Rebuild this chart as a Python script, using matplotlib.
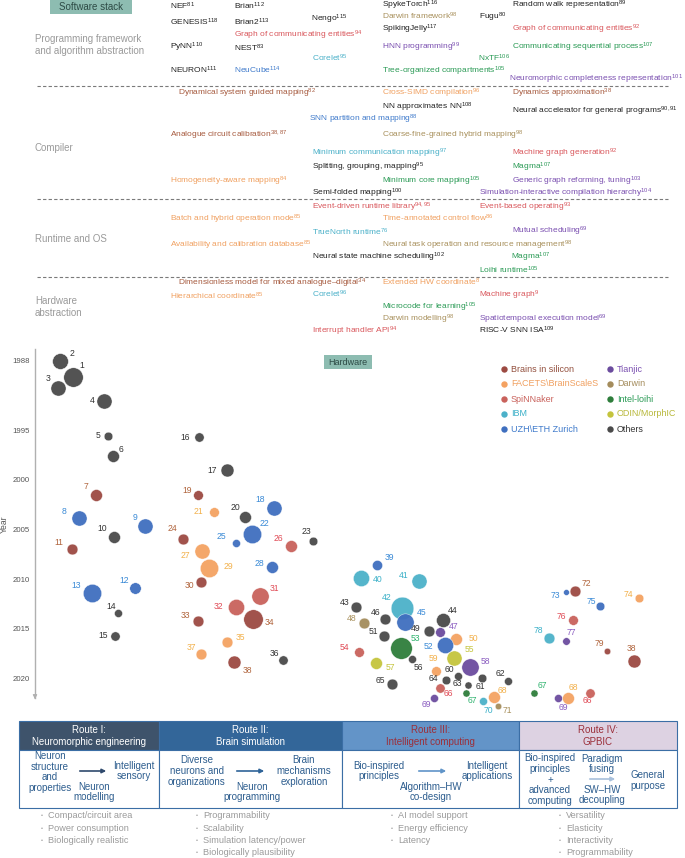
import matplotlib
matplotlib.use('Agg')
import matplotlib.pyplot as plt
from matplotlib.patches import Rectangle

plt.rcParams['font.family'] = ['Liberation Sans', 'DejaVu Sans']
plt.rcParams['mathtext.fontset'] = 'custom'
plt.rcParams['mathtext.rm'] = 'Liberation Sans'
plt.rcParams['mathtext.it'] = 'Liberation Sans:italic'
plt.rcParams['mathtext.bf'] = 'Liberation Sans:bold'
plt.rcParams['mathtext.default'] = 'regular'

# ---------------- data ----------------
groups = ['brains', 'facets', 'spinn', 'ibm', 'uzh', 'tianjic', 'darwin', 'intel', 'odin', 'others']
group_names = ['Brains in silicon', 'FACETS\\BrainScaleS', 'SpiNNaker', 'IBM', 'UZH\\ETH Zurich',
               'Tianjic', 'Darwin', 'Intel-loihi', 'ODIN/MorphIC', 'Others']
bubble_color = {'brains': '#9c4a42', 'facets': '#f4a262', 'spinn': '#c9625c', 'ibm': '#4cb1c9',
                'uzh': '#3f6fbf', 'tianjic': '#6b4c9e', 'darwin': '#a48c5c', 'intel': '#2e7d3b',
                'odin': '#c4c43c', 'others': '#4a4a4a'}
label_color = {'brains': '#b0643c', 'facets': '#f2b04a', 'spinn': '#e04a55', 'ibm': '#3ab0c8',
               'uzh': '#3a8ad6', 'tianjic': '#8a5cc0', 'darwin': '#a8905c', 'intel': '#2eb36e',
               'odin': '#c4c43c', 'others': '#333333'}
legend_text_color = {'brains': '#93503e', 'facets': '#f0a060', 'spinn': '#c9625c', 'ibm': '#3ab0c8',
                     'uzh': '#3f7acb', 'tianjic': '#7a4fb0', 'darwin': '#a48c5c', 'intel': '#2a9a55',
                     'odin': '#b8b83a', 'others': '#333333'}

hw_ids = ['1', '2', '3', '4', '5', '6', '7', '8', '9', '10', '11', '12', '13', '14', '15',
          '16', '17', '18', '19', '20', '21', '22', '23', '24', '25', '26', '27', '28', '29', '30',
          '31', '32', '33', '34', '35', '36', '37', '38',
          '39', '40', '41', '42', '43', '44', '45', '46', '47', '48', '49', '50', '51', '52', '53',
          '54', '55', '56', '57', '58', '59', '60', '61', '62', '63', '64', '65', '66', '67', '68',
          '69', '70', '71',
          '72', '73', '74', '75', '76', '77', '78', '79', '38', '67', '69', '68', '66']
hw_group = ['others', 'others', 'others', 'others', 'others', 'others', 'brains', 'uzh', 'uzh', 'others',
            'brains', 'uzh', 'uzh', 'others', 'others',
            'others', 'others', 'uzh', 'brains', 'others', 'facets', 'uzh', 'others', 'brains', 'uzh',
            'spinn', 'facets', 'uzh', 'facets', 'brains', 'spinn', 'spinn', 'brains', 'brains', 'facets',
            'others', 'facets', 'brains',
            'uzh', 'ibm', 'ibm', 'ibm', 'others', 'others', 'uzh', 'others', 'tianjic', 'darwin', 'others',
            'facets', 'others', 'uzh', 'intel', 'spinn', 'odin', 'others', 'odin', 'tianjic', 'facets',
            'others', 'others', 'others', 'others', 'others', 'others', 'spinn', 'intel', 'facets',
            'tianjic', 'ibm', 'darwin',
            'brains', 'uzh', 'facets', 'uzh', 'spinn', 'tianjic', 'ibm', 'brains', 'brains', 'intel',
            'tianjic', 'facets', 'spinn']
hw_year = [1989.6, 1988.0, 1990.7, 1992.0, 1995.6, 1997.6, 2001.5, 2003.8, 2004.6, 2005.7,
           2006.9, 2010.9, 2011.4, 2013.4, 2015.7,
           1995.7, 1999.0, 2002.8, 2001.5, 2003.7, 2003.2, 2005.4, 2006.1, 2005.9, 2006.3,
           2006.6, 2007.2, 2008.8, 2008.9, 2010.3, 2011.7, 2012.8, 2014.2, 2014.0, 2016.3,
           2018.1, 2017.5, 2018.3,
           2008.6, 2009.9, 2010.2, 2012.9, 2012.8, 2014.1, 2014.3, 2014.0, 2015.3, 2014.4, 2015.2,
           2016.0, 2015.7, 2016.6, 2016.9, 2017.3, 2017.9, 2018.0, 2018.4, 2018.8, 2019.2,
           2019.7, 2019.9, 2020.2, 2020.6, 2020.1, 2020.5, 2020.9, 2021.4, 2021.9,
           2022.0, 2022.3, 2022.8,
           2011.2, 2011.3, 2011.9, 2012.7, 2014.1, 2016.2, 2015.9, 2017.2, 2018.2, 2021.4,
           2022.0, 2022.0, 2021.4]
hw_col = [73, 60, 58, 104, 108, 113, 96, 79, 145, 114, 72, 135, 92, 118, 115,
          199, 227, 274, 198, 245, 214, 252, 313, 183, 236, 291, 202, 272, 209, 201,
          260, 236, 198, 253, 227, 283, 201, 234,
          377, 361, 419, 402, 356, 443, 405, 385, 440, 364, 429, 456, 384, 445, 401,
          359, 454, 412, 376, 470, 436, 458, 482, 508, 468, 446, 392, 440, 466, 494,
          434, 483, 498,
          575, 566, 639, 600, 573, 566, 549, 607, 634, 534, 558, 568, 590]
hw_size = [9, 7.3, 7, 7, 4, 5.5, 5.5, 7, 7, 5.5, 5, 5.3, 8.5, 3.7, 4.3,
           4.3, 6, 7, 4.5, 5.5, 4.5, 8.5, 4, 5, 3.7, 5.5, 7, 5.5, 8.5, 5,
           8, 7.5, 5, 9, 5, 4.3, 5, 6,
           4.7, 7.5, 7, 10.5, 5, 6.5, 8, 5, 4.5, 5, 5, 5.5, 5, 7.5, 10,
           4.5, 7, 3.7, 5.5, 8, 4.5, 3.7, 4, 3.7, 3.3, 4, 5, 4.3, 3.3, 5.5,
           3.7, 3.7, 3,
           5, 2.7, 4, 4, 4.5, 3.5, 5, 3, 6, 3.3, 3.7, 5.5, 4.3]
# label offsets (pixels, right / down)
lab_off = [(9, -11), (12, -7), (-10, -9), (-12, 0), (-10, -1), (8, -7), (-10, -8), (-15, -6), (-10, -8),
           (-12, -8), (-13, -6), (-11, -8), (-16, -8), (-7, -7), (-12, 0),
           (-14, 0), (-15, 0), (-14, -8), (-11, -4), (-10, -9), (-16, 0), (12, -10), (-7, -9), (-11, -10),
           (-15, -6), (-13, -7), (-17, 4), (-13, -4), (19, -2), (-12, 3), (14, -8), (-18, -1), (-13, -6),
           (16, 3), (13, -4), (-9, -6), (-10, -6), (13, 9),
           (12, -8), (17, 1), (-15, -6), (-15, -11), (-11, -5), (10, -10), (17, -9), (-9, -7), (14, -5),
           (-12, -4), (-13, -2), (17, 0), (-11, -4), (-17, 2), (14, -9), (-15, -4), (15, -8), (6, 9),
           (14, 5), (15, -5), (-3, -12), (-9, -6), (-2, 9), (-8, -7), (-11, -1), (-13, -1), (-12, -3),
           (8, 6), (6, 8), (8, -7), (-8, 6), (5, 9), (9, 4),
           (11, -8), (-11, 3), (-11, -4), (-9, -5), (-12, -4), (5, -8), (-11, -7), (-8, -7), (-3, -12),
           (8, -7), (5, 9), (5, -11), (-3, 8)]
year_ticks = [1988, 1995, 2000, 2005, 2010, 2015, 2020]

# software stack
sw_color = {'k': '#222222', 'br': '#a65a3e', 'or': '#f0a060', 'rd': '#d9575c', 'cy': '#4ab0c8',
            'bl': '#3f7acb', 'pu': '#7a4fb0', 'gr': '#2a9a55', 'tn': '#a8905c'}
sw_items = [
    ('NEF', '81', 'k'), ('Brian', '112', 'k'), ('GENESIS', '118', 'k'), ('Brian2', '113', 'k'),
    ('Nengo', '115', 'k'), ('Graph of communicating entities', '94', 'rd'), ('PyNN', '110', 'k'),
    ('NEST', '83', 'k'), ('Corelet', '95', 'cy'), ('NEURON', '111', 'k'), ('NeuCube', '114', 'bl'),
    ('SpykeTorch', '116', 'k'), ('Random walk representation', '89', 'k'), ('Darwin framework', '98', 'tn'),
    ('Fugu', '80', 'k'), ('SpikingJelly', '117', 'k'), ('Graph of communicating entities', '92', 'rd'),
    ('HNN programming', '99', 'pu'), ('Communicating sequential process', '107', 'gr'),
    ('NxTF', '106', 'gr'), ('Tree-organized compartments', '105', 'gr'),
    ('Neuromorphic completeness representation', '101', 'pu'),
    ('Dynamical system guided mapping', '82', 'br'), ('Cross-SIMD compilation', '96', 'or'),
    ('Dynamics approximation', '38', 'br'), ('NN approximates NN', '108', 'k'),
    ('Neural accelerator for general programs', '90,91', 'k'), ('SNN partition and mapping', '88', 'bl'),
    ('Analogue circuit calibration', '38,87', 'br'), ('Coarse-fine-grained hybrid mapping', '98', 'tn'),
    ('Minimum communication mapping', '97', 'cy'), ('Machine graph generation', '92', 'rd'),
    ('Splitting, grouping, mapping', '95', 'k'), ('Magma', '107', 'gr'),
    ('Homogeneity-aware mapping', '84', 'or'), ('Minimum core mapping', '105', 'gr'),
    ('Generic graph reforming, tuning', '103', 'pu'), ('Semi-folded mapping', '100', 'k'),
    ('Simulation-interactive compilation hierarchy', '104', 'pu'),
    ('Event-driven runtime library', '94,95', 'rd'), ('Event-based operating', '93', 'rd'),
    ('Batch and hybrid operation mode', '85', 'or'), ('Time-annotated control flow', '86', 'or'),
    ('TrueNorth runtime', '76', 'cy'), ('Mutual scheduling', '69', 'pu'),
    ('Availability and calibration database', '85', 'or'),
    ('Neural task operation and resource management', '98', 'tn'),
    ('Neural state machine scheduling', '102', 'k'), ('Magma', '107', 'gr'), ('Loihi runtime', '105', 'gr'),
    ('Dimensionless model for mixed analogue\u2013digital', '34', 'br'), ('Extended HW coordinate', '8', 'or'),
    ('Corelet', '96', 'cy'), ('Machine graph', '9', 'rd'), ('Hierarchical coordinate', '85', 'or'),
    ('Microcode for learning', '105', 'gr'), ('Darwin modelling', '98', 'tn'),
    ('Spatiotemporal execution model', '69', 'pu'), ('Interrupt handler API', '94', 'rd'),
    ('RISC-V SNN ISA', '109', 'k'),
]
sw_pos = [(170, 6), (234, 6), (170, 23), (234, 23), (311, 18), (234, 35), (170, 47), (234, 48),
          (312, 59), (170, 71), (234, 71), (382, 5), (512, 5), (382, 17), (479, 17), (382, 29),
          (512, 28), (382, 47), (512, 47), (478, 58), (382, 71), (509, 79),
          (178, 93), (382, 93), (512, 93), (382, 106), (512, 110), (309, 119), (170, 134), (382, 134),
          (312, 152), (512, 152), (312, 166), (512, 166), (170, 181), (382, 181), (512, 181),
          (312, 193), (479, 193),
          (312, 206), (479, 206), (170, 218), (382, 218), (312, 232), (512, 231), (170, 245),
          (382, 245), (312, 257), (511, 257), (479, 271),
          (178, 283), (382, 283), (312, 295), (479, 294), (170, 297), (382, 306), (382, 318),
          (479, 318), (312, 330), (479, 330)]
layers = ['Programming framework\nand algorithm abstraction', 'Compiler', 'Runtime and OS',
          'Hardware\nabstraction']
layer_y = [45, 148, 239, 307]
sep_y = [86, 199, 277]

routes = ['Route I:\nNeuromorphic engineering', 'Route II:\nBrain simulation',
          'Route III:\nIntelligent computing', 'Route IV:\nGPBIC']
route_x = [19, 159, 342, 519, 677]
route_fill = ['#3e536b', '#336699', '#6394c8', '#ddd2e2']
route_title_color = ['white', 'white', '#9b2f3a', '#9b2f3a']
route_props = [['Compact/circuit area', 'Power consumption', 'Biologically realistic'],
               ['Programmability', 'Scalability', 'Simulation latency/power', 'Biologically plausibility'],
               ['AI model support', 'Energy efficiency', 'Latency'],
               ['Versatility', 'Elasticity', 'Interactivity', 'Programmability']]
prop_x = [42, 197, 392, 560]

# ---------------- figure ----------------
W, H = 685, 858
fig = plt.figure(figsize=(W / 100, H / 100), dpi=100)
ax = fig.add_axes([0, 0, 1, 1])
ax.set_xlim(0, W)
ax.set_ylim(H, 0)
ax.axis('off')

# Software stack header
ax.add_patch(Rectangle((50, 0), 82, 14, facecolor='#8dbcb1', edgecolor='none'))
ax.text(91, 7.5, 'Software stack', ha='center', va='center', fontsize=7, color='#2d4a45')

for lab, ly in zip(layers, layer_y):
    ax.text(35, ly, lab, ha='left', va='center', fontsize=7, color='#9a9a9a', linespacing=1.3)
for sy in sep_y:
    ax.plot([37, 668], [sy, sy], color='#7a7a7a', lw=0.8, dashes=(3, 2))

for (txt, ref, ck), (x, y) in zip(sw_items, sw_pos):
    ax.text(x, y + 3, txt + '$^{' + ref + '}$', ha='left', va='baseline', fontsize=6.0,
            color=sw_color[ck])

# Hardware header
ax.add_patch(Rectangle((324, 355), 48, 14, facecolor='#8dbcb1', edgecolor='none'))
ax.text(348, 362.5, 'Hardware', ha='center', va='center', fontsize=6.5, color='#2d4a45')

# Legend
for i, (g, name) in enumerate(zip(groups, group_names)):
    col, row = divmod(i, 5)
    lx = [504, 610][col]
    ly = 369 + row * 15
    ax.plot(lx, ly, 'o', ms=4.6, color=bubble_color[g], mec='none')
    ax.text(lx + 7, ly, name, ha='left', va='center', fontsize=6.5, color=legend_text_color[g])

# Hardware bubbles axes
top_px, bot_px = 340, 715
y0_px, ppy = 480, 9.93
ax_hw = fig.add_axes([35 / W, 1 - bot_px / H, (W - 35) / W, (bot_px - top_px) / H])
ax_hw.set_xlim(35, W)
ax_hw.set_ylim(2000 + (bot_px - y0_px) / ppy, 2000 + (top_px - y0_px) / ppy)
ax_hw.patch.set_alpha(0)
for s in ['top', 'right', 'bottom']:
    ax_hw.spines[s].set_visible(False)
ax_hw.spines['left'].set_color('#b0b0b0')
ax_hw.spines['left'].set_linewidth(1.0)
ax_hw.spines['left'].set_bounds(2000 + (349 - y0_px) / ppy, 2000 + (698 - y0_px) / ppy)
ax_hw.set_xticks([])
ax_hw.set_yticks(year_ticks)
ax_hw.set_yticklabels([str(t) for t in year_ticks])
ax_hw.tick_params(axis='y', length=0, pad=4, labelsize=5.6, labelcolor='#555555')
ax_hw.set_ylabel('Year', fontsize=6.2, color='#555555')
ax_hw.yaxis.set_label_coords(-0.040, 0.51)
ax_hw.annotate('', xy=(35, 2000 + (702 - y0_px) / ppy), xytext=(35, 2000 + (694 - y0_px) / ppy),
               arrowprops=dict(arrowstyle='-|>', color='#b0b0b0', lw=0.8, mutation_scale=6),
               annotation_clip=False)

for hid, g, yr, cx, r, (dx, dy) in zip(hw_ids, hw_group, hw_year, hw_col, hw_size, lab_off):
    ax_hw.scatter([cx], [yr], s=(1.44 * r * 1.08) ** 2, color=bubble_color[g],
                  edgecolors='white', linewidths=0.3, alpha=0.95, zorder=3, clip_on=False)
    ax_hw.annotate(hid, (cx, yr), xytext=(dx, -dy), textcoords='offset pixels',
                   ha='center', va='center', fontsize=6.2, color=label_color[g], zorder=4,
                   annotation_clip=False)

# ---------------- Routes panel ----------------
top, hdr, bot = 721, 750, 808
for i in range(4):
    x0, x1 = route_x[i], route_x[i + 1]
    ax.add_patch(Rectangle((x0, top), x1 - x0, hdr - top, facecolor=route_fill[i],
                           edgecolor='#3b6ea5', lw=0.8))
    ax.add_patch(Rectangle((x0, hdr), x1 - x0, bot - hdr, facecolor='white',
                           edgecolor='#3b6ea5', lw=0.8))
    ax.text((x0 + x1) / 2, 736, routes[i], ha='center', va='center', fontsize=7,
            color=route_title_color[i], linespacing=1.35)

body_col = '#2d5d8e'
bt = dict(ha='center', va='center', fontsize=7, color=body_col, linespacing=1.08)
ax.text(50, 772, 'Neuron\nstructure\nand\nproperties', **bt)
ax.text(134, 771, 'Intelligent\nsensory', **bt)
ax.text(94, 792, 'Neuron\nmodelling', **bt)
ax.text(197, 771, 'Diverse\nneurons and\norganizations', **bt)
ax.text(304, 771, 'Brain\nmechanisms\nexploration', **bt)
ax.text(252, 792, 'Neuron\nprogramming', **bt)
ax.text(379, 771, 'Bio-inspired\nprinciples', **bt)
ax.text(487, 771, 'Intelligent\napplications', **bt)
ax.text(431, 792, 'Algorithm\u2013HW\nco-design', **bt)
ax.text(550, 779.5, 'Bio-inspired\nprinciples\n+\nadvanced\ncomputing', **bt)
ax.text(602, 764, 'Paradigm\nfusing', **bt)
ax.text(602, 795, 'SW\u2013HW\ndecoupling', **bt)
ax.text(648, 780.5, 'General\npurpose', **bt)

arrows = [((77, 771), (109, 771), '#2f4a6d'), ((234, 771), (267, 771), '#2f6498'),
          ((416, 771), (449, 771), '#6094c8'), ((587, 779), (618, 779), '#a8c0dc')]
for (a, b, c) in arrows:
    ax.annotate('', xy=b, xytext=a,
                arrowprops=dict(arrowstyle='-|>', color=c, lw=1.2, mutation_scale=6))

for props, px in zip(route_props, prop_x):
    for j, p in enumerate(props):
        yy = 816 + j * 12.3
        ax.text(px, yy, '\u2022', ha='center', va='center', fontsize=4, color='#9a9a9a')
        ax.text(px + 6, yy, p, ha='left', va='center', fontsize=6.6, color='#9a9a9a')

fig.savefig('out.png', dpi=100)
